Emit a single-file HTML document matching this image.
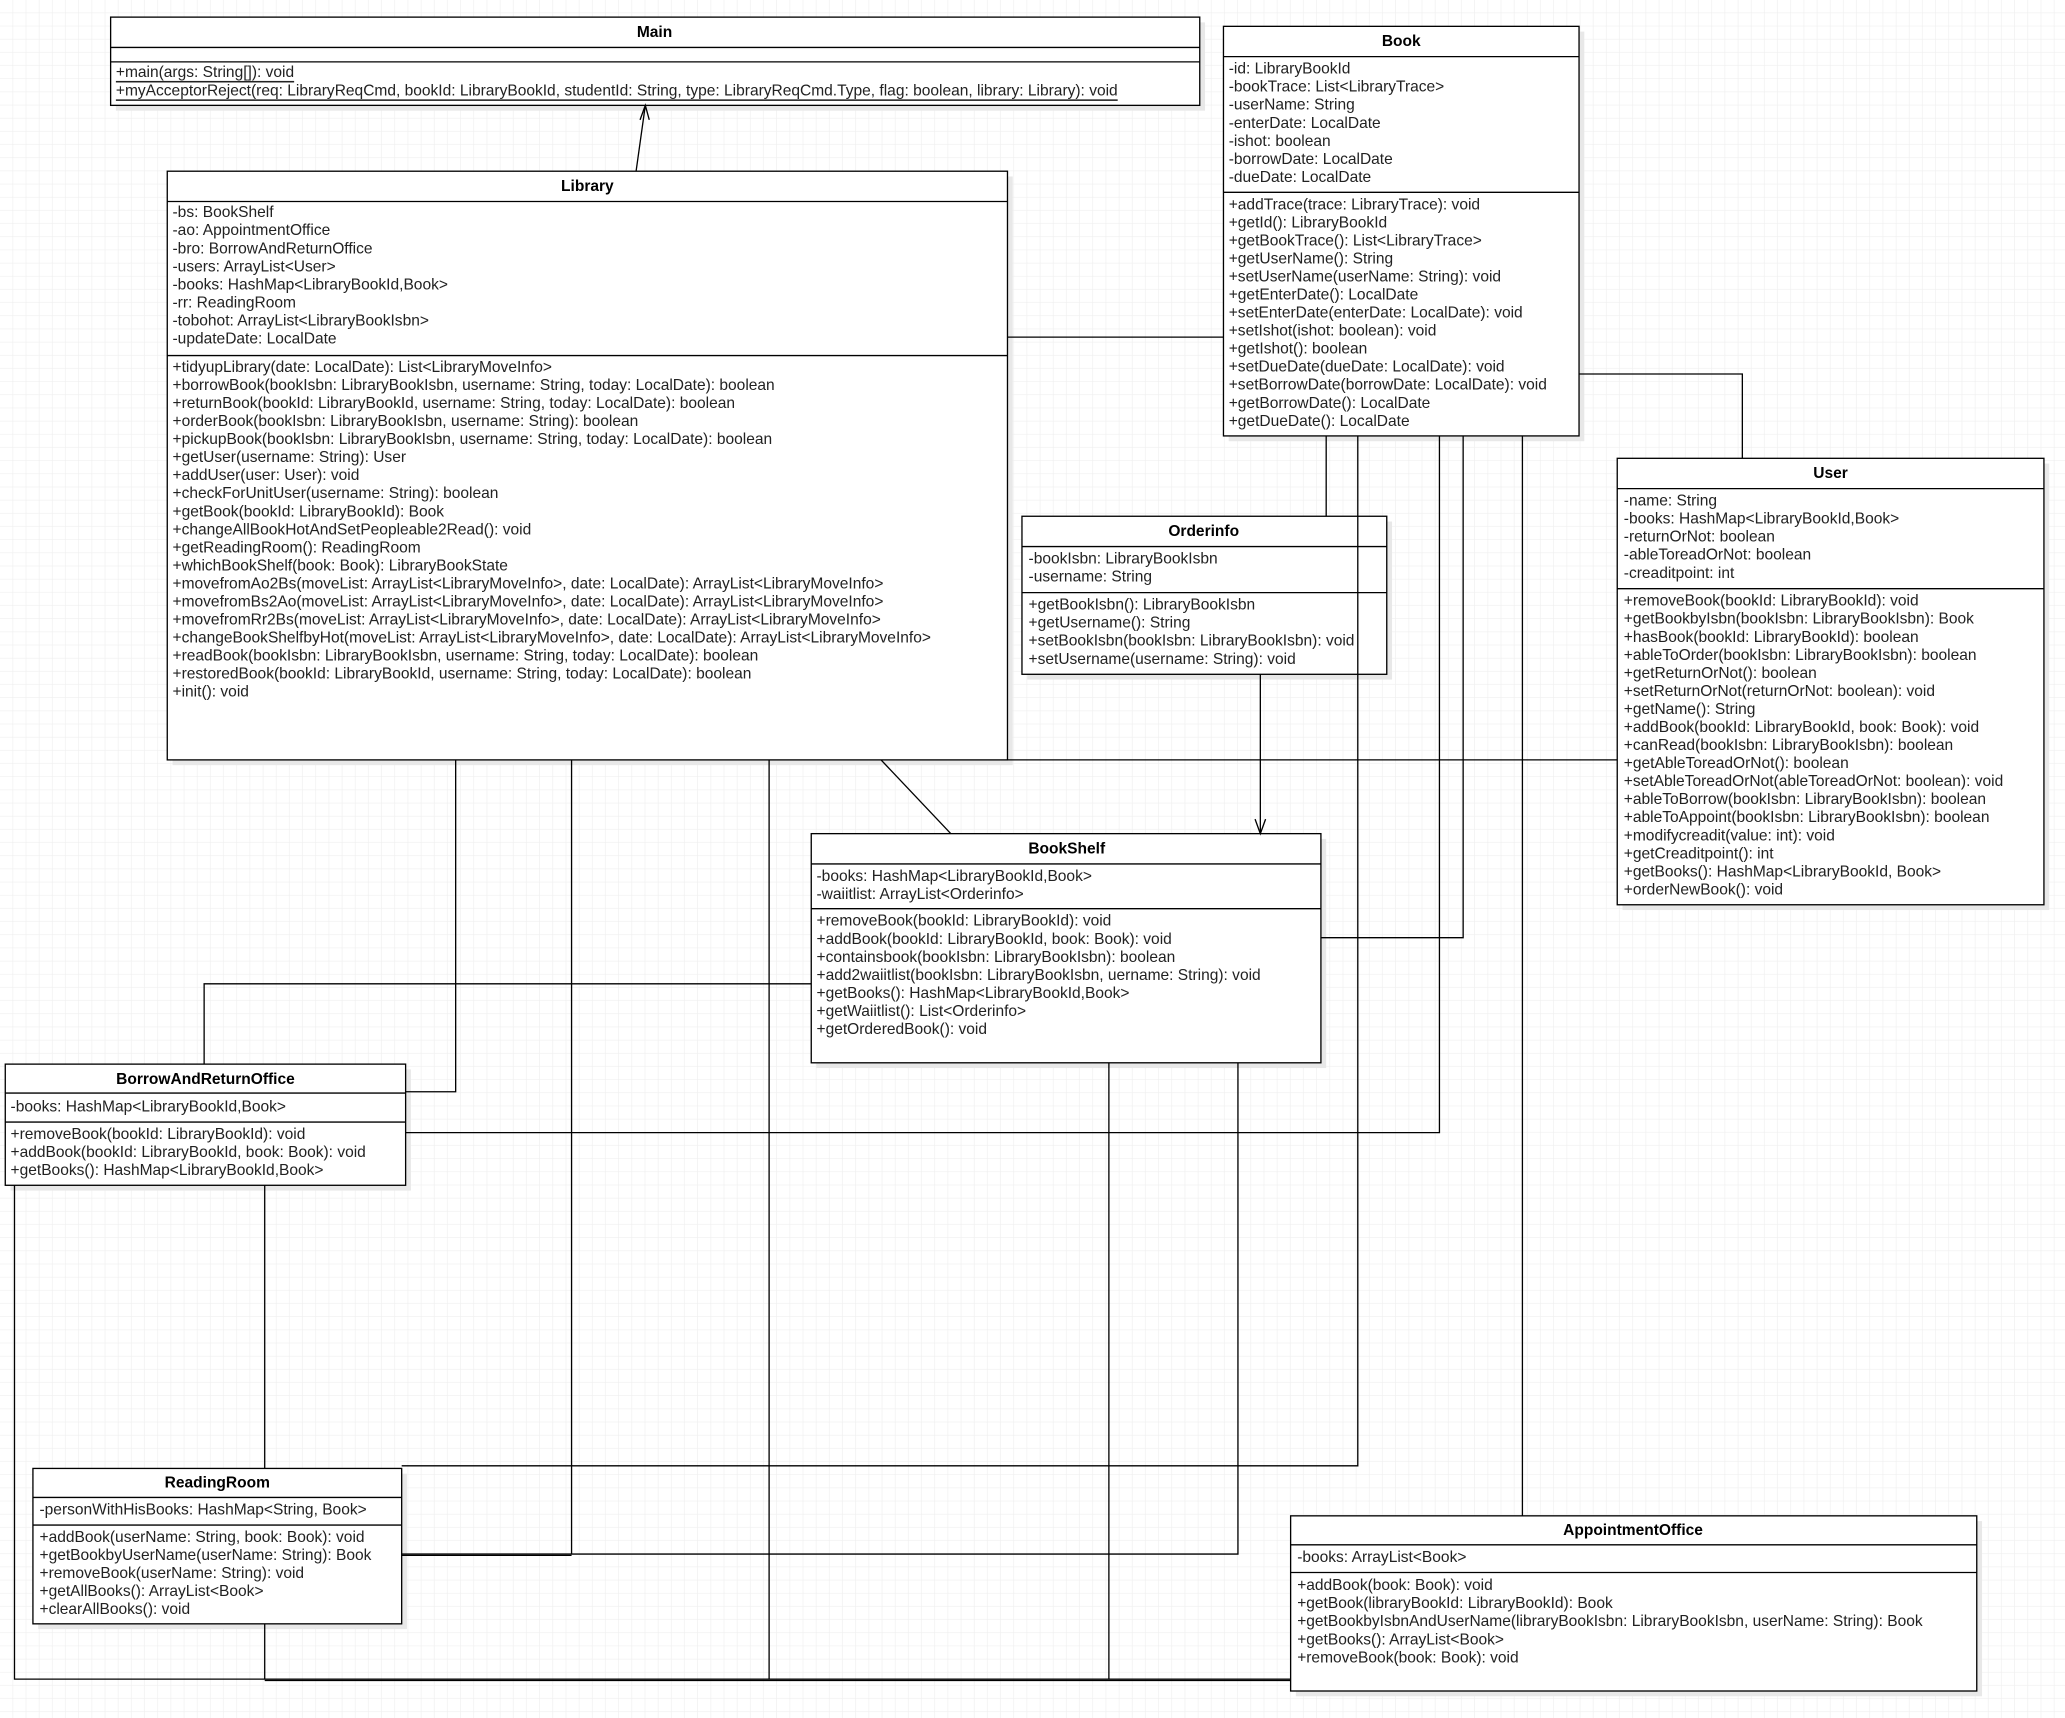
<!DOCTYPE html>
<html><head><meta charset="utf-8"><style>
html,body{margin:0;padding:0;background:#fff;}
svg{display:block;}
text{font-family:"Liberation Sans",Arial,sans-serif;font-size:11.8px;fill:#222;dominant-baseline:central;}
.h{font-weight:bold;text-anchor:middle;fill:#000;}
.b{fill:#fff;stroke:#000;stroke-width:1;}
.s{fill:#e8e8e8;stroke:none;}
.l{stroke:#000;stroke-width:1;fill:none;}
</style></head><body>
<svg width="2065" height="1718" viewBox="0 0 1568 1304.5" preserveAspectRatio="none" xmlns="http://www.w3.org/2000/svg">
<defs>
<pattern id="g" width="10" height="10" patternUnits="userSpaceOnUse"><path d="M10 0V10H0" fill="none" stroke="#efefef" stroke-width="1"/></pattern>
</defs>
<rect width="1568" height="1304.5" fill="#fff"/>
<rect width="1568" height="1304.5" fill="url(#g)"/>

<!-- shadows -->
<rect class="s" x="88" y="17" width="827" height="67"/>
<rect class="s" x="131" y="134" width="638" height="447"/>
<rect class="s" x="933" y="24" width="270" height="311"/>
<rect class="s" x="1232" y="352" width="324" height="339"/>
<rect class="s" x="780" y="396" width="277" height="120"/>
<rect class="s" x="620" y="637" width="387" height="174"/>
<rect class="s" x="8" y="812" width="304" height="92"/>
<rect class="s" x="29" y="1119" width="280" height="118"/>
<rect class="s" x="984" y="1155" width="521" height="133"/>

<!-- Main -->
<rect class="b" x="84" y="13" width="827" height="67"/>
<line class="l" x1="84" y1="36" x2="911" y2="36"/>
<line class="l" x1="84" y1="47" x2="911" y2="47"/>
<text class="h" x="497" y="24.5">Main</text>
<text x="88" y="55" text-decoration="underline">+main(args: String[]): void</text>
<text x="88" y="69" text-decoration="underline">+myAcceptorReject(req: LibraryReqCmd, bookId: LibraryBookId, studentId: String, type: LibraryReqCmd.Type, flag: boolean, library: Library): void</text>

<!-- Library -->
<rect class="b" x="127" y="130" width="638" height="447"/>
<line class="l" x1="127" y1="153" x2="765" y2="153"/>
<line class="l" x1="127" y1="270" x2="765" y2="270"/>
<text class="h" x="446" y="141.5">Library</text>
<text x="131" y="161.5">-bs: BookShelf</text>
<text x="131" y="175.2">-ao: AppointmentOffice</text>
<text x="131" y="188.9">-bro: BorrowAndReturnOffice</text>
<text x="131" y="202.6">-users: ArrayList&lt;User&gt;</text>
<text x="131" y="216.3">-books: HashMap&lt;LibraryBookId,Book&gt;</text>
<text x="131" y="230">-rr: ReadingRoom</text>
<text x="131" y="243.7">-tobohot: ArrayList&lt;LibraryBookIsbn&gt;</text>
<text x="131" y="257.4">-updateDate: LocalDate</text>
<text x="131" y="279">+tidyupLibrary(date: LocalDate): List&lt;LibraryMoveInfo&gt;</text>
<text x="131" y="292.7">+borrowBook(bookIsbn: LibraryBookIsbn, username: String, today: LocalDate): boolean</text>
<text x="131" y="306.4">+returnBook(bookId: LibraryBookId, username: String, today: LocalDate): boolean</text>
<text x="131" y="320.1">+orderBook(bookIsbn: LibraryBookIsbn, username: String): boolean</text>
<text x="131" y="333.8">+pickupBook(bookIsbn: LibraryBookIsbn, username: String, today: LocalDate): boolean</text>
<text x="131" y="347.5">+getUser(username: String): User</text>
<text x="131" y="361.2">+addUser(user: User): void</text>
<text x="131" y="374.9">+checkForUnitUser(username: String): boolean</text>
<text x="131" y="388.6">+getBook(bookId: LibraryBookId): Book</text>
<text x="131" y="402.3">+changeAllBookHotAndSetPeopleable2Read(): void</text>
<text x="131" y="416">+getReadingRoom(): ReadingRoom</text>
<text x="131" y="429.7">+whichBookShelf(book: Book): LibraryBookState</text>
<text x="131" y="443.4">+movefromAo2Bs(moveList: ArrayList&lt;LibraryMoveInfo&gt;, date: LocalDate): ArrayList&lt;LibraryMoveInfo&gt;</text>
<text x="131" y="457.1">+movefromBs2Ao(moveList: ArrayList&lt;LibraryMoveInfo&gt;, date: LocalDate): ArrayList&lt;LibraryMoveInfo&gt;</text>
<text x="131" y="470.8">+movefromRr2Bs(moveList: ArrayList&lt;LibraryMoveInfo&gt;, date: LocalDate): ArrayList&lt;LibraryMoveInfo&gt;</text>
<text x="131" y="484.5">+changeBookShelfbyHot(moveList: ArrayList&lt;LibraryMoveInfo&gt;, date: LocalDate): ArrayList&lt;LibraryMoveInfo&gt;</text>
<text x="131" y="498.2">+readBook(bookIsbn: LibraryBookIsbn, username: String, today: LocalDate): boolean</text>
<text x="131" y="511.9">+restoredBook(bookId: LibraryBookId, username: String, today: LocalDate): boolean</text>
<text x="131" y="525.6">+init(): void</text>

<!-- Book -->
<rect class="b" x="929" y="20" width="270" height="311"/>
<line class="l" x1="929" y1="43" x2="1199" y2="43"/>
<line class="l" x1="929" y1="146" x2="1199" y2="146"/>
<text class="h" x="1064" y="31.5">Book</text>
<text x="933" y="52.5">-id: LibraryBookId</text>
<text x="933" y="66.2">-bookTrace: List&lt;LibraryTrace&gt;</text>
<text x="933" y="79.9">-userName: String</text>
<text x="933" y="93.6">-enterDate: LocalDate</text>
<text x="933" y="107.3">-ishot: boolean</text>
<text x="933" y="121">-borrowDate: LocalDate</text>
<text x="933" y="134.7">-dueDate: LocalDate</text>
<text x="933" y="155.5">+addTrace(trace: LibraryTrace): void</text>
<text x="933" y="169.2">+getId(): LibraryBookId</text>
<text x="933" y="182.9">+getBookTrace(): List&lt;LibraryTrace&gt;</text>
<text x="933" y="196.6">+getUserName(): String</text>
<text x="933" y="210.3">+setUserName(userName: String): void</text>
<text x="933" y="224">+getEnterDate(): LocalDate</text>
<text x="933" y="237.7">+setEnterDate(enterDate: LocalDate): void</text>
<text x="933" y="251.4">+setIshot(ishot: boolean): void</text>
<text x="933" y="265.1">+getIshot(): boolean</text>
<text x="933" y="278.8">+setDueDate(dueDate: LocalDate): void</text>
<text x="933" y="292.5">+setBorrowDate(borrowDate: LocalDate): void</text>
<text x="933" y="306.2">+getBorrowDate(): LocalDate</text>
<text x="933" y="319.9">+getDueDate(): LocalDate</text>

<!-- User -->
<rect class="b" x="1228" y="348" width="324" height="339"/>
<line class="l" x1="1228" y1="371" x2="1552" y2="371"/>
<line class="l" x1="1228" y1="447" x2="1552" y2="447"/>
<text class="h" x="1390" y="359.5">User</text>
<text x="1233" y="380.5">-name: String</text>
<text x="1233" y="394.2">-books: HashMap&lt;LibraryBookId,Book&gt;</text>
<text x="1233" y="407.9">-returnOrNot: boolean</text>
<text x="1233" y="421.6">-ableToreadOrNot: boolean</text>
<text x="1233" y="435.3">-creaditpoint: int</text>
<text x="1233" y="456.5">+removeBook(bookId: LibraryBookId): void</text>
<text x="1233" y="470.2">+getBookbyIsbn(bookIsbn: LibraryBookIsbn): Book</text>
<text x="1233" y="483.9">+hasBook(bookId: LibraryBookId): boolean</text>
<text x="1233" y="497.6">+ableToOrder(bookIsbn: LibraryBookIsbn): boolean</text>
<text x="1233" y="511.3">+getReturnOrNot(): boolean</text>
<text x="1233" y="525">+setReturnOrNot(returnOrNot: boolean): void</text>
<text x="1233" y="538.7">+getName(): String</text>
<text x="1233" y="552.4">+addBook(bookId: LibraryBookId, book: Book): void</text>
<text x="1233" y="566.1">+canRead(bookIsbn: LibraryBookIsbn): boolean</text>
<text x="1233" y="579.8">+getAbleToreadOrNot(): boolean</text>
<text x="1233" y="593.5">+setAbleToreadOrNot(ableToreadOrNot: boolean): void</text>
<text x="1233" y="607.2">+ableToBorrow(bookIsbn: LibraryBookIsbn): boolean</text>
<text x="1233" y="620.9">+ableToAppoint(bookIsbn: LibraryBookIsbn): boolean</text>
<text x="1233" y="634.6">+modifycreadit(value: int): void</text>
<text x="1233" y="648.3">+getCreaditpoint(): int</text>
<text x="1233" y="662">+getBooks(): HashMap&lt;LibraryBookId, Book&gt;</text>
<text x="1233" y="675.7">+orderNewBook(): void</text>

<!-- Orderinfo -->
<rect class="b" x="776" y="392" width="277" height="120"/>
<line class="l" x1="776" y1="415" x2="1053" y2="415"/>
<line class="l" x1="776" y1="450" x2="1053" y2="450"/>
<text class="h" x="914" y="403.5">Orderinfo</text>
<text x="781" y="424.5">-bookIsbn: LibraryBookIsbn</text>
<text x="781" y="438.2">-username: String</text>
<text x="781" y="459.5">+getBookIsbn(): LibraryBookIsbn</text>
<text x="781" y="473.2">+getUsername(): String</text>
<text x="781" y="486.9">+setBookIsbn(bookIsbn: LibraryBookIsbn): void</text>
<text x="781" y="500.6">+setUsername(username: String): void</text>

<!-- BookShelf -->
<rect class="b" x="616" y="633" width="387" height="174"/>
<line class="l" x1="616" y1="656" x2="1003" y2="656"/>
<line class="l" x1="616" y1="690" x2="1003" y2="690"/>
<text class="h" x="810" y="644.5">BookShelf</text>
<text x="620" y="665.5">-books: HashMap&lt;LibraryBookId,Book&gt;</text>
<text x="620" y="679.2">-waiitlist: ArrayList&lt;Orderinfo&gt;</text>
<text x="620" y="699.5">+removeBook(bookId: LibraryBookId): void</text>
<text x="620" y="713.2">+addBook(bookId: LibraryBookId, book: Book): void</text>
<text x="620" y="726.9">+containsbook(bookIsbn: LibraryBookIsbn): boolean</text>
<text x="620" y="740.6">+add2waiitlist(bookIsbn: LibraryBookIsbn, uername: String): void</text>
<text x="620" y="754.3">+getBooks(): HashMap&lt;LibraryBookId,Book&gt;</text>
<text x="620" y="768">+getWaiitlist(): List&lt;Orderinfo&gt;</text>
<text x="620" y="781.7">+getOrderedBook(): void</text>

<!-- BorrowAndReturnOffice -->
<rect class="b" x="4" y="808" width="304" height="92"/>
<line class="l" x1="4" y1="830" x2="308" y2="830"/>
<line class="l" x1="4" y1="852" x2="308" y2="852"/>
<text class="h" x="156" y="819.5">BorrowAndReturnOffice</text>
<text x="8" y="840.5">-books: HashMap&lt;LibraryBookId,Book&gt;</text>
<text x="8" y="861.5">+removeBook(bookId: LibraryBookId): void</text>
<text x="8" y="875.2">+addBook(bookId: LibraryBookId, book: Book): void</text>
<text x="8" y="888.9">+getBooks(): HashMap&lt;LibraryBookId,Book&gt;</text>

<!-- ReadingRoom -->
<rect class="b" x="25" y="1115" width="280" height="118"/>
<line class="l" x1="25" y1="1137" x2="305" y2="1137"/>
<line class="l" x1="25" y1="1158" x2="305" y2="1158"/>
<text class="h" x="165" y="1126">ReadingRoom</text>
<text x="30" y="1146.5">-personWithHisBooks: HashMap&lt;String, Book&gt;</text>
<text x="30" y="1167.5">+addBook(userName: String, book: Book): void</text>
<text x="30" y="1181.2">+getBookbyUserName(userName: String): Book</text>
<text x="30" y="1194.9">+removeBook(userName: String): void</text>
<text x="30" y="1208.6">+getAllBooks(): ArrayList&lt;Book&gt;</text>
<text x="30" y="1222.3">+clearAllBooks(): void</text>

<!-- AppointmentOffice -->
<rect class="b" x="980" y="1151" width="521" height="133"/>
<line class="l" x1="980" y1="1173" x2="1501" y2="1173"/>
<line class="l" x1="980" y1="1194" x2="1501" y2="1194"/>
<text class="h" x="1240" y="1162">AppointmentOffice</text>
<text x="985" y="1182.5">-books: ArrayList&lt;Book&gt;</text>
<text x="985" y="1204">+addBook(book: Book): void</text>
<text x="985" y="1217.7">+getBook(libraryBookId: LibraryBookId): Book</text>
<text x="985" y="1231.4">+getBookbyIsbnAndUserName(libraryBookIsbn: LibraryBookIsbn, userName: String): Book</text>
<text x="985" y="1245.1">+getBooks(): ArrayList&lt;Book&gt;</text>
<text x="985" y="1258.8">+removeBook(book: Book): void</text>

<!-- connectors -->
<path class="l" d="M483 130 L490 80"/>
<path class="l" d="M486 91 L490 80 L493 91"/>
<path class="l" d="M765 256 H929"/>
<path class="l" d="M1199 284 H1323 V348"/>
<path class="l" d="M1007 331 V392"/>
<path class="l" d="M1031 331 V1113 H305"/>
<path class="l" d="M1093 331 V860 H308"/>
<path class="l" d="M1111 331 V712 H1003"/>
<path class="l" d="M1156 331 V1151"/>
<path class="l" d="M957 512 V633"/>
<path class="l" d="M953 622 L957 633 L961 622"/>
<path class="l" d="M669 577 L722 633"/>
<path class="l" d="M346 577 V829 H308"/>
<path class="l" d="M434 577 V1180"/>
<path class="l" d="M584 577 V1275"/>
<path class="l" d="M765 577 H1228"/>
<path class="l" d="M616 747 H155 V808"/>
<path class="l" d="M842 807 V1275"/>
<path class="l" d="M940 807 V1180 H305"/>
<path class="l" d="M11 900 V1275 H980"/>
<path class="l" d="M201 900 V1115"/>
<path class="l" d="M201 1233 V1275"/>
<path class="l" d="M201 1276 H980" stroke-width="1.5"/>
<path class="l" d="M305 1181 H434" stroke-width="1.5"/>
</svg>
</body></html>
